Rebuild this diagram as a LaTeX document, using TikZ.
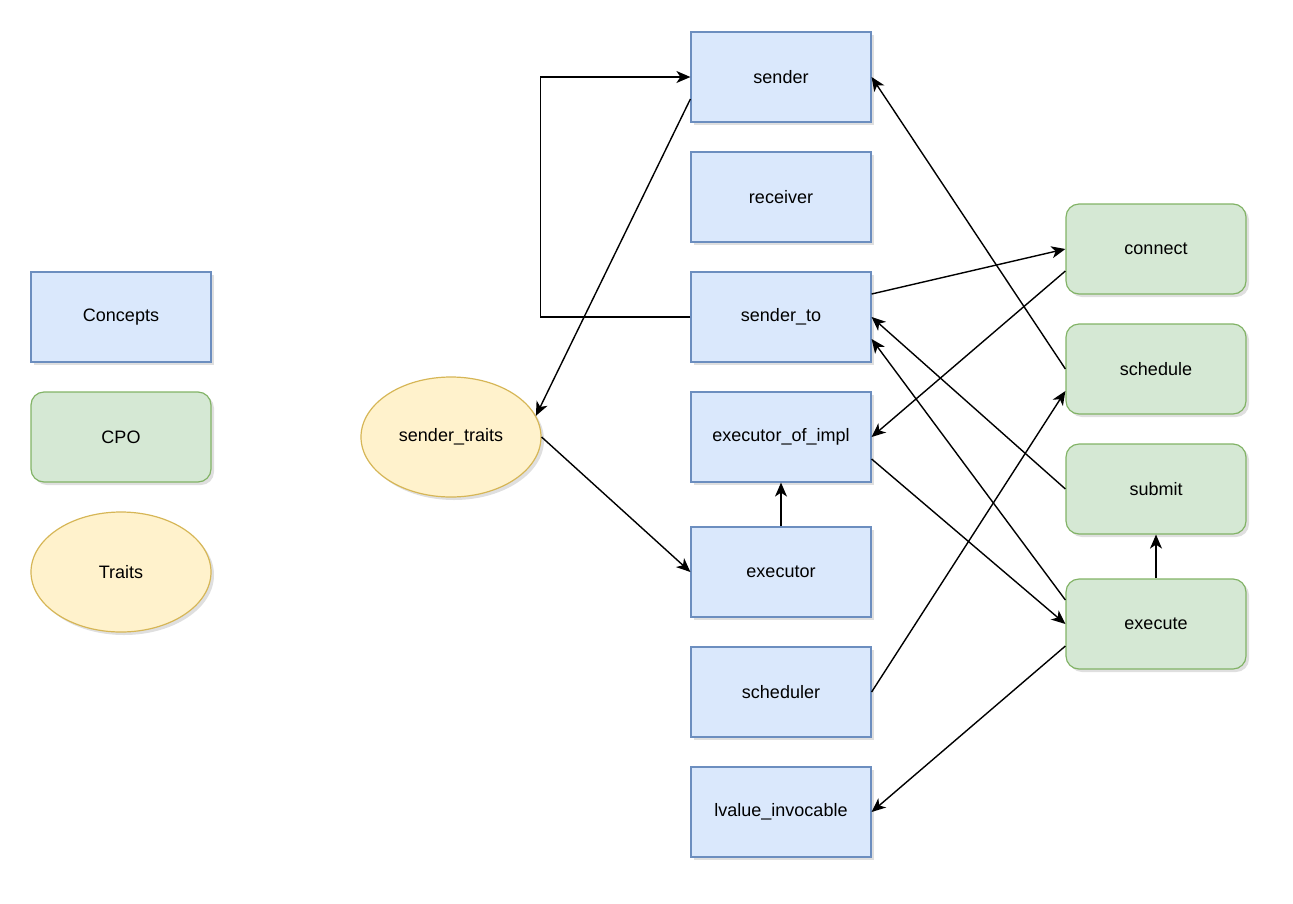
\documentclass[tikz,border=0pt]{standalone}
\usepackage{fontspec}
\setmainfont{Liberation Sans}
\usetikzlibrary{shapes.geometric,arrows.meta,shadows,calc}
\definecolor{bfill}{HTML}{DAE8FC}
\definecolor{bdraw}{HTML}{6C8EBF}
\definecolor{gfill}{HTML}{D5E8D4}
\definecolor{gdraw}{HTML}{82B366}
\definecolor{yfill}{HTML}{FFF2CC}
\definecolor{ydraw}{HTML}{D6B656}
\tikzset{
  shd/.style={drop shadow={shadow xshift=3pt,shadow yshift=-3pt,opacity=0.18,fill=black!70}},
  concept/.style={rectangle,draw=bdraw,fill=bfill,line width=1.2pt,minimum width=180pt,minimum height=90pt,inner sep=0pt,shd,font=\fontsize{18}{21}\selectfont},
  cpo/.style={rectangle,rounded corners=13pt,draw=gdraw,fill=gfill,line width=1.2pt,minimum width=180pt,minimum height=90pt,inner sep=0pt,shd,font=\fontsize{18}{21}\selectfont},
  trait/.style={ellipse,draw=ydraw,fill=yfill,line width=1.2pt,minimum width=180pt,minimum height=120pt,inner sep=0pt,shd,font=\fontsize{18}{21}\selectfont},
  conn/.style={line width=1.4pt,-{Stealth[length=14pt,width=12pt,inset=4pt]}}
}
\begin{document}
\begin{tikzpicture}[x=1pt,y=-1pt]
\useasboundingbox (0,0) rectangle (1293,903);
% legend
\node[concept] (lconcepts) at (121,317) {Concepts};
\node[cpo] (lcpo) at (121,437) {CPO};
\node[trait] (ltraits) at (121,572) {Traits};
% concepts
\node[concept] (sender) at (781,77) {sender};
\node[concept] (receiver) at (781,197) {receiver};
\node[concept] (senderto) at (781,317) {sender\_to};
\node[concept] (execimpl) at (781,437) {executor\_of\_impl};
\node[concept] (executor) at (781,572) {executor};
\node[concept] (scheduler) at (781,692) {scheduler};
\node[concept] (lvalue) at (781,812) {lvalue\_invocable};
% traits
\node[trait] (straits) at (451,437) {sender\_traits};
% cpos
\node[cpo] (connect) at (1156,249) {connect};
\node[cpo] (schedule) at (1156,369) {schedule};
\node[cpo] (submit) at (1156,489) {submit};
\node[cpo] (execute) at (1156,624) {execute};
% edges
\draw[conn] (senderto.west) -- ++(-150,0) |- (sender.west);
\draw[conn] ($(sender.west)+(0,22)$) -- (straits.14);
\draw[conn] (straits.east) -- (executor.west);
\draw[conn] (executor.north) -- (execimpl.south);
\draw[conn] ($(senderto.east)+(0,-23)$) -- (connect.west);
\draw[conn] ($(connect.west)+(0,22)$) -- (execimpl.east);
\draw[conn] (schedule.west) -- (sender.east);
\draw[conn] (submit.west) -- (senderto.east);
\draw[conn] ($(execute.west)+(0,-24)$) -- ($(senderto.east)+(0,22)$);
\draw[conn] ($(execimpl.east)+(0,22)$) -- (execute.west);
\draw[conn] (scheduler.east) -- ($(schedule.west)+(0,22)$);
\draw[conn] (execute.north) -- (submit.south);
\draw[conn] ($(execute.west)+(0,22)$) -- (lvalue.east);
\end{tikzpicture}
\end{document}
